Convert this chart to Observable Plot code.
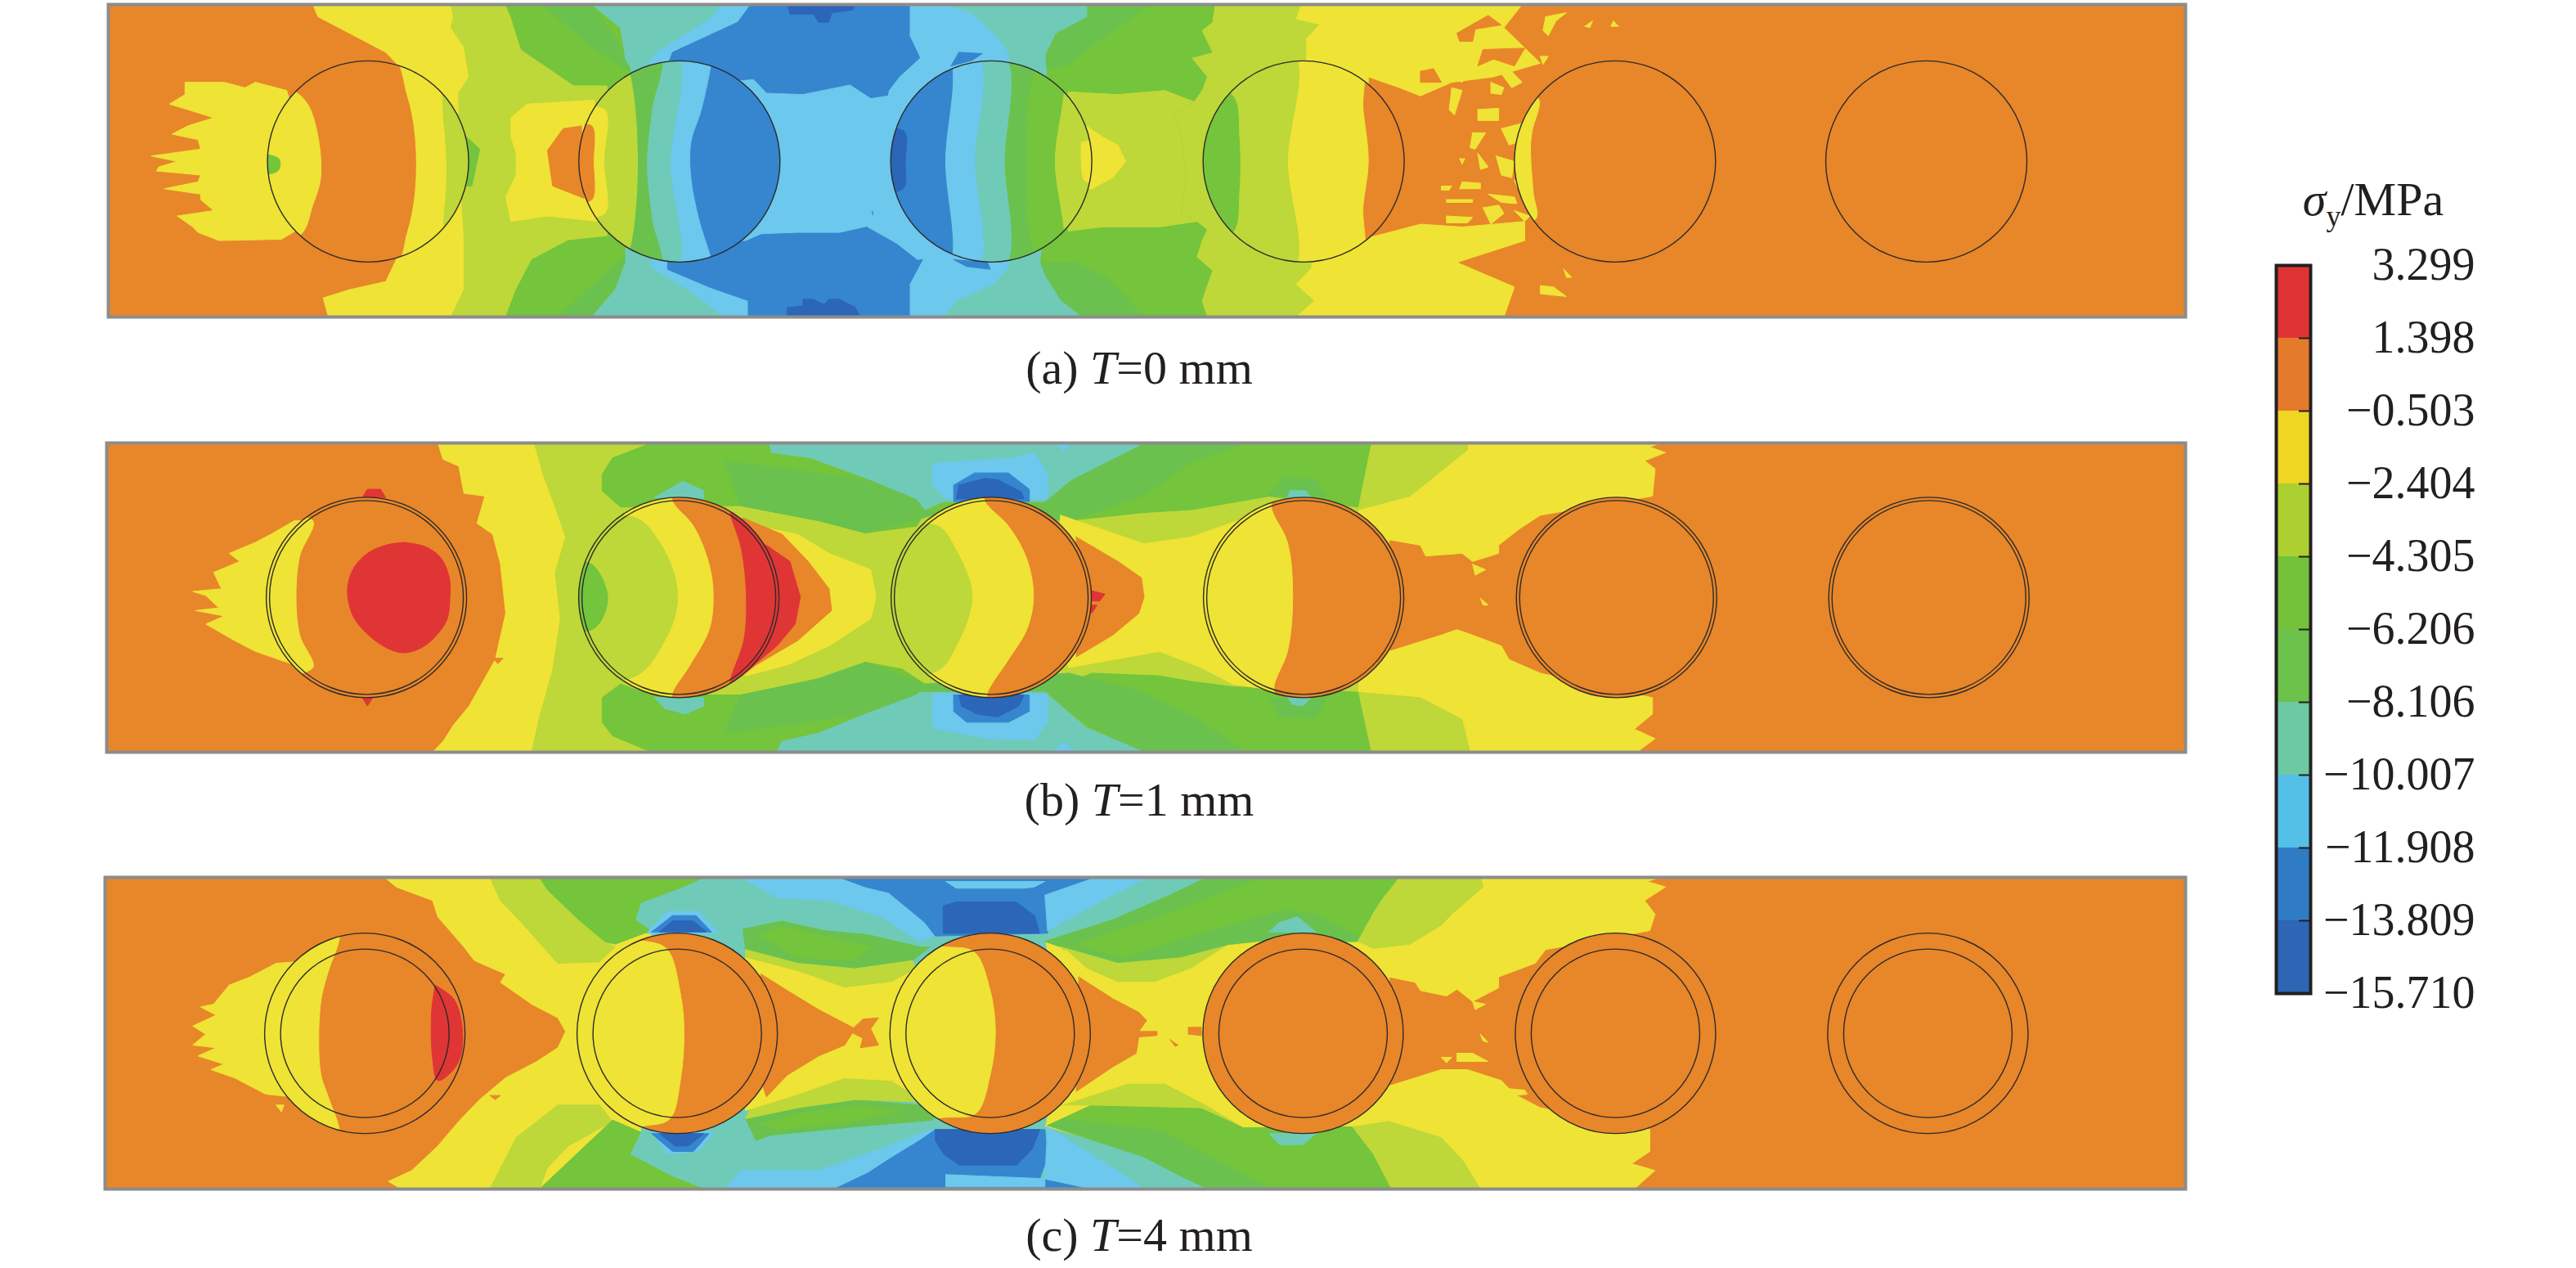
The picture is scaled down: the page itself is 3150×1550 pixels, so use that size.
<!DOCTYPE html>
<html><head><meta charset="utf-8">
<script src="https://cdn.jsdelivr.net/npm/d3@7"></script>
<script src="https://cdn.jsdelivr.net/npm/@observablehq/plot@0.6"></script>
<style>
html,body{margin:0;padding:0;background:#fff;}
#page{position:relative;width:3150px;height:1550px;overflow:hidden;font-family:"Liberation Serif",serif;color:#231f20;}
#page>div{position:absolute;}
.cap{font-size:58px;white-space:pre;line-height:1;}
#unit{font-size:58px;white-space:pre;line-height:1;}
#unit sub{font-size:36px;line-height:0;}
</style></head><body><div id="page"></div>
<script>
// stress levels, one colour band per interval
const tickValues=[3.299,1.398,-0.503,-2.404,-4.305,-6.206,-8.106,-10.007,-11.908,-13.809,-15.710];
const levelIds=[0,1,2,3,4,5,6,7,8,9];
const plateColors=["#e03535","#e8862a","#efe335","#bdd838","#74c43c","#6bc14e","#6fcbb8","#6cc8ec","#3585cf","#2b66b8"];
const barColors=["#e03434","#e47a2b","#efd622","#abd030","#74c23a","#6cc24a","#6dc8a4","#54c0e8","#2f7cc4","#2d66b4"];
const R=1474;

const holesA=[516,1113,1711,2310,2907,3504];
const holesB=[513,1112,1711,2310,2910,3509];
const holesC=[510,1109,1709,2309,2908,3507];

const regionsA=[
[1,"18,15 4001,15 4001,1160 18,1160"],
[2,"410,15 420,60 450,90 500,140 550,190 570,230 600,590 570,950 550,1030 480,1060 430,1090 440,1160 2694,1160 2714,1050 2604,960 2734,880 2734,810 2614,830 2534,820 2434,870 2434,280 2494,320 2534,350 2594,300 2674,280 2764,230 2694,100 2729,15"],
[2,"360,330 300,300 280,320 240,300 165,300 165,345 135,380 170,400 220,430 170,460 140,490 190,510 195,545 100,570 150,590 115,610 110,625 195,640 190,665 125,690 195,710 195,730 220,770 150,790 180,830 190,850 230,880 350,875 390,830 400,590"],
[3,"675,15 680,60 675,100 700,170 710,280 690,340 690,590 700,860 700,1060 675,1160 2294,1160 2329,1100 2294,1040 2324,980 2324,590 2314,210 2314,140 2339,90 2294,70 2304,15"],
[4,"780,15 790,60 810,180 910,310 975,310 1000,590 975,865 900,880 830,950 800,1060 780,1160 2124,1160 2114,1100 2134,990 2104,940 2114,880 2124,840 2104,810 2074,780 2084,640 2074,490 2059,420 2099,370 2114,330 2124,280 2094,210 2134,190 2114,110 2134,80 2139,15"],
[5,"850,15 945,15 1030,250 1010,250 945,170"],
[5,"880,1160 945,1160 1030,950 1000,950"],
[5,"420,15 540,15 420,180 380,240 340,250 340,200 360,120 420,60",R],
[5,"410,1160 530,1160 460,1020 400,960 330,960 340,1010 370,1100",R],
[6,"945,15 1000,100 1010,215 1020,250 1010,590 1010,960 990,1060 945,1160 1884,1160 1844,1100 1814,1010 1804,960 1830,590 1814,200 1834,120 1894,60 1894,15"],
[7,"1195,15 1170,70 1070,190 1050,240 1060,590 1060,980 1130,1060 1200,1160 1619,1160 1644,1100 1714,1040 1744,980 1744,590 1744,190 1714,120 1674,50 1624,15"],
[8,"1250,15 1225,80 1100,190 1090,240 1100,590 1090,985 1170,1050 1245,1100 1245,1160 1554,1160 1554,1040 1579,950 1534,880 1484,820 1484,590 1514,330 1534,280 1574,210 1554,130 1554,15"],
[7,"1200,300 1255,290 1280,340 1350,345 1440,310 1480,360 1530,345 1550,590 1530,800 1480,770 1490,820 1420,850 1340,850 1270,855 1240,880 1200,880"],
[7,"1474,810 1490,820 1540,860 1590,940 1570,950 1530,890 1474,830"],
[9,"1320,15 1450,15 1445,35 1405,45 1400,80 1380,80 1370,50 1325,50"],
[9,"1320,1160 1460,1160 1450,1125 1420,1095 1400,1095 1390,1115 1370,1095 1350,1095 1350,1120 1320,1125"],
[8,"160,240 175,190 220,195 200,220",R],
[8,"165,950 230,960 235,985 190,975",R],
[4,"705,500 730,545 715,680 705,680"],
[3,"385,335 480,345 570,330 610,360 625,370 585,420 600,490 610,640 600,780 630,810 560,830 450,830 385,845 356,590",R],
[2,"420,460 450,500 480,530 495,590 470,650 430,690 410,690",R],
[2,"790,430 820,380 950,365 960,810 860,790 790,810 780,720 800,640 800,560 790,500"],
[1,"925,460 890,470 860,550 870,680 930,725"],
[1,"1130,120 1190,55 1215,90 1165,105 1160,150 1135,150",R],
[1,"1180,180 1260,175 1240,240 1200,215 1170,240",R],
[1,"1060,260 1085,250 1100,300 1060,300",R],
[2,"1300,60 1340,45 1320,75 1305,130 1295,110",R],
[2,"1375,95 1390,75 1385,100",R],
[2,"1430,75 1440,95 1425,95",R],
[2,"1290,205 1305,205 1295,235",R],
[2,"1200,230 1225,240 1255,300 1235,320",R],
[2,"1115,255 1150,265 1140,300 1125,290",R],
[2,"1195,300 1220,320 1215,345 1195,340",R],
[2,"1120,320 1140,330 1125,420 1115,400",R],
[2,"1170,400 1210,395 1210,440 1170,440",R],
[2,"1215,470 1275,440 1280,500 1230,530",R],
[2,"1160,485 1185,485 1165,545 1155,540",R],
[2,"1135,580 1145,580 1140,600",R],
[2,"1170,560 1190,610 1175,620",R],
[2,"1205,570 1240,590 1235,650 1215,640",R],
[2,"1100,680 1120,680 1115,695 1100,695",R],
[2,"1140,665 1175,670 1175,690 1135,690",R],
[2,"1110,730 1160,730 1160,740 1110,740",R],
[2,"1180,760 1210,750 1220,780 1195,820",R],
[2,"1110,790 1160,795 1150,815 1110,815",R],
[2,"1190,710 1240,720 1245,745 1215,740",R],
[2,"1240,770 1270,790 1260,810",R],
[2,"1240,660 1270,660 1270,720 1250,700",R],
[2,"1290,1045 1315,1050 1340,1085 1290,1075",R],
[2,"1335,985 1350,1015 1340,1015",R]
];
const insideA=[
[3,"300,190 730,190 730,990 300,990"],
[2,"300,190 630,190 660,450 662,750 630,990 300,990"],
[1,"300,190 555,190 590,350 605,500 605,700 590,850 560,990 300,990"],
[2,"300,330 370,330 400,380 420,500 425,650 410,750 385,860 300,860"],
[4,"305,560 345,580 345,620 330,635 305,635"],
[8,"915,190 1320,190 1320,990 915,990"],
[7,"915,190 1175,190 1175,215 1155,400 1135,520 1135,650 1150,800 1175,960 1175,990 915,990"],
[6,"915,190 1105,190 1095,600 1105,990 915,990"],
[5,"915,190 1075,190 1060,400 1050,600 1060,800 1075,990 915,990"],
[3,"915,190 1000,190 1000,990 915,990"],
[2,"915,400 970,400 968,590 970,780 915,780"],
[1,"915,460 945,460 948,590 945,730 915,730"],
[3,"30,190 440,190 440,990 30,990",R],
[4,"30,190 360,190 358,590 360,990 30,990",R],
[5,"30,190 310,190 305,400 305,800 310,990 30,990",R],
[6,"30,190 258,190 262,590 258,990 30,990",R],
[7,"30,190 208,190 205,590 208,990 30,990",R],
[8,"30,190 150,190 148,590 150,990 30,990",R],
[9,"30,470 70,480 72,590 68,690 30,690",R],
[2,"410,520 440,520 440,660 416,660",R],
[1,"630,190 1040,190 1040,990 630,990",R],
[2,"630,190 940,190 950,400 960,590 950,750 940,990 630,990",R],
[3,"630,190 815,190 805,590 815,990 630,990",R],
[4,"630,300 700,350 712,500 712,700 700,850 630,900",R],
[1,"2700,190 3120,190 3120,990 2700,990"],
[2,"2700,360 2760,360 2748,480 2745,540 2750,700 2755,800 2700,800"]
];

const regionsB=[
[1,"15,35 4001,35 4001,1170 15,1170"],
[2,"650,35 660,95 690,120 700,220 740,230 725,330 755,370 770,480 780,660 760,830 710,1000 680,1070 660,1130 640,1170 2949,1170 2984,1120 2944,1085 2979,1030 2979,970 2764,880 2704,830 2689,780 2634,740 2604,720 2574,740 2474,800 2474,390 2534,410 2544,450 2614,440 2634,470 2684,440 2684,410 2724,350 2764,300 2979,230 2984,130 2964,100 3004,70 2974,50 2994,35"],
[2,"410,320 375,320 330,370 300,400 250,440 270,470 220,510 235,570 180,580 205,595 230,640 185,650 240,670 205,700 260,760 300,800 360,840 400,860"],
[3,"835,35 850,140 875,270 895,380 875,510 885,680 870,870 845,1040 830,1170 2629,1170 2614,1050 2534,970 2414,950 2414,280 2514,230 2624,60 2624,35"],
[4,"1060,35 985,90 965,150 965,210 1000,270 1230,265 1380,320 1470,365 1568,340 1584,290 1700,300 1814,260 1859,320 2004,290 2094,280 2244,230 2414,270 2439,35"],
[4,"1060,1170 985,1110 965,1060 965,970 1000,920 1060,960 1230,960 1290,950 1380,900 1470,840 1540,865 1584,920 1700,950 1814,950 1904,880 2034,890 2094,910 2174,930 2414,950 2439,1170"],
[5,"1200,100 1470,170 1568,240 1584,280 1700,300 1814,250 1864,170 2004,35 2200,35 2100,100 2000,230 1860,320 1600,300 1470,365 1380,320 1230,265"],
[5,"1200,1100 1470,1030 1568,960 1700,950 1814,950 1904,1080 2004,1170 2200,1170 2100,1040 2000,950 1860,880 1584,920 1470,840 1380,900 1230,960"],
[6,"1285,35 1290,70 1365,90 1480,170 1568,240 1584,280 1620,250 1814,250 1864,170 2004,35"],
[6,"1300,1170 1310,1130 1380,1100 1470,1030 1568,960 1574,950 1814,950 1894,1080 2004,1170"],
[7,"125,110 280,90 320,70 345,150 345,240 150,240 125,190",R],
[8,"165,190 205,145 270,145 310,205 310,250 165,250",R],
[9,"175,190 225,165 250,170 295,215 300,240 170,240",R],
[7,"360,35 390,35 375,65",R],
[7,"125,955 345,955 345,1060 320,1125 230,1120 125,1080",R],
[8,"165,960 310,960 310,1020 270,1060 190,1060 165,1020",R],
[9,"175,960 300,960 290,1000 250,1040 210,1030 180,1000",R],
[7,"355,1170 375,1135 400,1170",R],
[6,"1065,235 1120,175 1160,210 1160,240"],
[6,"1065,970 1160,970 1160,1000 1125,1030 1085,1010"],
[5,"770,230 800,160 860,170 880,230",R],
[6,"805,235 810,210 840,210 850,235",R],
[5,"770,970 880,970 860,1040 790,1040",R],
[6,"805,970 850,970 835,1000 815,995",R],
[0,"505,235 515,205 540,205 550,235"],
[0,"505,970 525,970 515,1000"],
[2,"1260,340 1340,370 1400,440 1480,500 1490,600 1480,680 1400,780 1320,850 1240,890"],
[2,"370,300 530,405 620,380 770,280 770,940 700,920 640,860 560,800 385,860 360,600",R],
[1,"1235,310 1310,370 1360,470 1400,570 1405,650 1340,760 1260,850 1240,880"],
[0,"1240,400 1280,410 1325,470 1345,600 1335,700 1300,780 1250,860"],
[1,"400,380 480,470 525,530 530,600 520,660 470,740 400,820",R],
[0,"425,575 455,590 445,615 425,615",R],
[0,"425,630 440,630 430,660",R],
[2,"1160,480 1185,500 1165,520",R],
[2,"1175,605 1190,630 1180,630",R],
[1,"755,825 775,825 765,845"]
];
const insideB=[
[1,"300,190 730,190 730,1010 300,1010"],
[2,"300,320 410,320 385,450 378,600 385,740 410,860 300,860"],
[0,"585,400 550,410 515,440 490,490 478,550 478,610 490,680 520,745 555,790 585,805 620,785 650,735 668,680 673,600 672,530 655,455 625,415"],
[0,"900,190 1320,190 1320,1010 900,1010"],
[1,"900,190 1200,190 1210,300 1230,420 1240,600 1235,760 1210,900 1200,1010 900,1010"],
[2,"900,190 1095,190 1100,250 1140,340 1170,480 1178,600 1170,720 1130,860 1100,950 1095,1010 900,1010"],
[3,"900,310 1030,310 1075,400 1105,530 1108,640 1085,760 1030,890 900,890"],
[4,"900,470 945,480 975,590 965,680 945,720 900,720"],
[1,"30,190 440,190 440,1010 30,1010",R],
[2,"30,190 220,190 225,250 270,340 305,460 318,600 305,720 270,830 230,950 225,1010 30,1010",R],
[3,"30,340 135,340 170,430 198,560 198,640 170,780 135,870 30,870",R],
[1,"630,190 1040,190 1040,1010 630,1010",R],
[2,"630,190 770,190 775,280 805,400 815,600 805,800 780,920 775,1010 630,1010",R],
[1,"2700,190 3120,190 3120,1010 2700,1010"]
];

const regionsC=[
[1,"12,35 4001,35 4001,1178 12,1178"],
[2,"548,35 570,70 640,120 650,180 700,290 720,340 780,390 770,420 830,500 880,550 895,600 880,660 840,710 780,770 730,850 690,930 650,1020 600,1110 555,1150 580,1178 2944,1178 2984,1110 2939,1085 2974,1040 2974,960 2764,880 2714,830 2689,780 2624,740 2574,740 2474,800 2474,400 2524,420 2534,450 2584,470 2604,445 2634,490 2684,440 2684,400 2754,350 2774,300 2974,230 2984,170 2964,120 3004,70 2969,50 2994,35"],
[2,"410,340 340,350 290,400 250,430 220,500 195,510 225,540 180,580 205,610 180,650 225,660 190,690 240,720 215,740 260,770 320,830 370,840 430,900"],
[3,"750,35 845,35 860,80 920,190 970,270 990,290 960,345 880,350 810,200 770,120"],
[3,"880,870 960,870 985,930 900,1020 860,1100 845,1178 750,1178 800,990"],
[4,"845,35 1165,35 1110,80 1040,130 1030,190 1060,230 990,280 970,270 920,190 860,80"],
[4,"845,1178 985,925 1040,970 1020,1050 1100,1130 1165,1178"],
[6,"1165,35 2124,35 2054,100 1944,190 1814,270 1850,600 1814,950 1924,1010 2004,1060 2074,1130 2124,1178 1165,1178 1100,1130 1020,1050 1040,970 1060,590 1060,230 1030,190 1040,130 1110,80"],
[7,"1230,35 1420,35 1470,70 1514,90 1584,200 1604,250 1574,270 1500,180 1400,120 1300,110"],
[8,"1420,35 1904,35 1904,50 1830,100 1819,240 1604,250 1584,200 1514,90 1470,70"],
[7,"150,50 340,50 320,70 300,75 170,75",R],
[9,"145,140 170,125 285,125 320,175 330,240 145,240",R],
[7,"345,230 340,100 430,40 530,40 470,100",R],
[7,"1200,1178 1410,1178 1474,1120 1568,1050 1600,960 1568,980 1500,1030 1380,1110 1230,1110"],
[8,"1410,1178 1904,1178 1804,1140 1819,1060 1814,960 1604,960 1574,1000 1514,1070 1474,1120"],
[9,"1604,960 1804,960 1790,1030 1760,1090 1650,1090 1620,1050 1604,1000"],
[7,"150,1125 340,1140 340,1170 150,1170",R],
[7,"345,950 470,1100 530,1178 430,1178 340,1140",R],
[5,"1235,225 1310,195 1390,230 1474,245 1574,290 1594,290 1560,340 1450,370 1340,350 1240,300"],
[4,"1270,250 1310,215 1390,250 1480,290 1450,340 1340,330"],
[3,"1240,300 1340,350 1450,370 1560,340 1568,370 1520,420 1430,440 1340,380 1240,330"],
[5,"1240,920 1340,880 1450,850 1568,870 1600,870 1600,925 1450,950 1290,980 1260,1000"],
[4,"1270,940 1340,900 1450,870 1540,890 1450,930 1300,960"],
[3,"1250,880 1340,830 1430,770 1520,780 1568,840 1600,860 1450,850 1340,880 1240,920"],
[2,"1240,330 1340,380 1430,440 1520,420 1568,370 1568,840 1520,780 1430,770 1340,830 1240,890"],
[5,"650,35 1020,35 970,160 945,250 940,270 760,280 680,290 600,340 480,350 370,290 340,270 470,190 580,100",R],
[4,"760,35 1020,35 970,160 945,250 860,170 800,150 620,250 490,330 400,280 560,180",R],
[5,"345,945 430,870 640,880 720,950 930,950 970,1050 1005,1175 650,1175 600,1130 530,1060 450,1010",R],
[4,"380,920 430,870 640,880 720,950 930,950 970,1050 1005,1175 770,1170 640,1040 560,960",R],
[3,"1020,35 1175,35 1180,70 1120,170 1100,210 1040,280 970,295 940,270 960,200 985,120",R],
[3,"930,950 1000,930 1100,990 1140,1070 1175,1178 1005,1178 970,1050",R],
[3,"370,290 480,350 600,330 690,285 620,370 550,420 480,420 420,370",R],
[3,"420,840 500,790 570,790 650,870 720,950 640,880 430,870 370,870",R],
[2,"380,300 420,370 480,420 550,420 620,370 690,285 760,270 770,950 720,950 650,870 570,790 500,790 420,840 370,870 350,600",R],
[7,"1050,240 1090,160 1150,160 1190,240"],
[8,"1060,235 1100,175 1145,175 1175,235"],
[9,"1075,235 1100,195 1140,195 1165,235"],
[7,"1060,970 1180,970 1150,1040 1090,1050"],
[8,"1060,975 1170,975 1140,1040 1100,1040"],
[9,"1075,975 1160,975 1130,1020 1105,1020"],
[6,"770,235 790,200 825,180 860,235",R],
[6,"770,975 860,975 835,1015 790,1015",R],
[1,"1270,390 1320,450 1380,520 1430,570 1450,590 1430,650 1380,690 1320,760 1280,840 1240,600"],
[1,"1465,555 1495,550 1480,590 1495,650 1460,660 1465,625 1440,600"],
[1,"405,400 470,480 520,530 535,560 520,600 555,600 555,615 520,620 515,680 470,730 400,820",R],
[1,"580,630 595,650 590,655",R],
[1,"615,585 640,585 640,615 615,610",R],
[2,"1160,490 1185,500 1165,520",R],
[2,"1175,610 1190,640 1180,635",R],
[2,"1100,695 1120,695 1110,715",R],
[2,"1130,680 1160,680 1190,710 1130,710",R],
[2,"1230,810 1260,815 1265,830 1240,835",R],
[2,"340,870 355,870 350,895"],
[1,"750,835 770,835 760,850"]
];
const insideC=[
[1,"300,190 730,190 730,1010 300,1010"],
[2,"300,240 460,240 460,270 440,380 425,500 425,750 440,840 460,950 460,990 300,990"],
[0,"645,430 680,480 695,560 695,680 680,740 650,780 640,700 638,530"],
[1,"900,190 1320,190 1320,1010 900,1010"],
[2,"900,280 1050,270 1090,300 1115,460 1122,600 1115,780 1095,920 1050,945 900,945"],
[1,"0,190 440,190 440,1010 0,1010",R],
[2,"0,290 150,290 205,310 235,450 245,600 235,760 208,900 150,915 0,915",R],
[1,"630,190 1040,190 1040,1010 630,1010",R],
[1,"2700,190 3120,190 3120,1010 2700,1010"]
];

// one row per polygon vertex, for Plot.line's z grouping
function vertices(shapes){
  const rows=[];
  shapes.forEach(([level,pts,shift=0],id)=>{
    const p=pts.trim().split(/\s+/).map(s=>s.split(",").map(Number));
    [...p,p[0]].forEach(([u,v])=>rows.push({id,level,u:u+shift,v}));
  });
  return rows;
}
const page=document.getElementById("page");
function place(el,left,top){el.style.left=left+"px";el.style.top=top+"px";page.appendChild(el);return el;}

function plate({regions,inside,holes,cy,radii,left,top,uLeft,vTop,vBot}){
  const m=3,w=2672-left,h=vBot-vTop;
  const polygon=(shapes,curve)=>Plot.line(vertices(shapes),{x:"u",y:"v",z:"id",fill:"level",stroke:"level",strokeWidth:1,curve});
  const p=Plot.plot({
    width:w+2*m,height:Math.round(h/3)+2*m,margin:m,
    style:{background:"transparent"},
    x:{domain:[uLeft,4001],axis:null},
    y:{domain:[vTop,vBot],reverse:true,axis:null},
    color:{type:"ordinal",domain:levelIds,range:plateColors},
    marks:[
      polygon(regions,"linear"),
      polygon(inside,"catmull-rom"),
      ...radii.map(r=>Plot.dot(holes,{x:d=>d,y:()=>cy,r,stroke:"#2b2b2b",strokeWidth:1.4,fill:"none"})),
      Plot.frame({stroke:"#8c8c8c",strokeWidth:4})
    ]
  });
  // hole interiors carry a separate field: clip that mark to the holes
  const id="holes"+left;
  const x=p.scale("x"),y=p.scale("y");
  const svg=d3.select(p);
  const clip=svg.append("defs").append("clipPath").attr("id",id);
  holes.forEach(u=>clip.append("circle").attr("cx",x.apply(u)).attr("cy",y.apply(cy)).attr("r",radii[0]));
  p.querySelectorAll(":scope > g")[1].setAttribute("clip-path",`url(#${id})`);
  const d=document.createElement("div");d.appendChild(p);d.style.lineHeight=0;
  place(d,left-m,top-m);
}
plate({regions:regionsA,inside:insideA,holes:holesA,cy:590,radii:[123],left:132,top:5,uLeft:18,vTop:15,vBot:1160});
plate({regions:regionsB,inside:insideB,holes:holesB,cy:602,radii:[122.5,118.5],left:130,top:541,uLeft:15,vTop:35,vBot:1170});
plate({regions:regionsC,inside:insideC,holes:holesC,cy:607,radii:[122.5,103],left:128,top:1072,uLeft:12,vTop:35,vBot:1178});

// captions
[[1393,421,"a","0"],[1393,949,"b","1"],[1393,1481,"c","4"]].forEach(([cx,top,k,t])=>{
  const c=document.createElement("div");c.className="cap";
  c.innerHTML=`(${k}) <i>T</i>=${t} mm`;
  c.style.transform="translateX(-50%)";
  place(c,cx,top);
});

// colour bar
const bands=levelIds.map(i=>({hi:tickValues[i],lo:tickValues[i+1],color:barColors[i]}));
const bar=Plot.plot({
  width:250,height:956,marginTop:33,marginBottom:33,marginLeft:3,marginRight:205,
  style:{background:"transparent",fontFamily:"Liberation Serif"},
  y:{domain:[-15.71,3.299],axis:null},
  marks:[
    Plot.rectY(bands,{y1:"lo",y2:"hi",fill:"color"}),
    Plot.tickY(tickValues.slice(1,-1),{y:d=>d,stroke:"#231f20",strokeWidth:2,insetLeft:28}),
    Plot.frame({stroke:"#231f20",strokeWidth:4}),
    Plot.axisY(tickValues,{anchor:"right",tickSize:0,tickPadding:201,textAnchor:"end",fontSize:56,fill:"#231f20",
      tickFormat:d=>d.toFixed(3).replace("-","\u2212")})
  ]
});
const bd=document.createElement("div");bd.appendChild(bar);bd.style.lineHeight=0;
place(bd,2780,291);
const unit=document.createElement("div");unit.id="unit";
unit.innerHTML='<i>\u03c3</i><sub>y</sub>/MPa';
unit.style.transform="translateX(-50%)";
place(unit,2902,215);
</script></body></html>
